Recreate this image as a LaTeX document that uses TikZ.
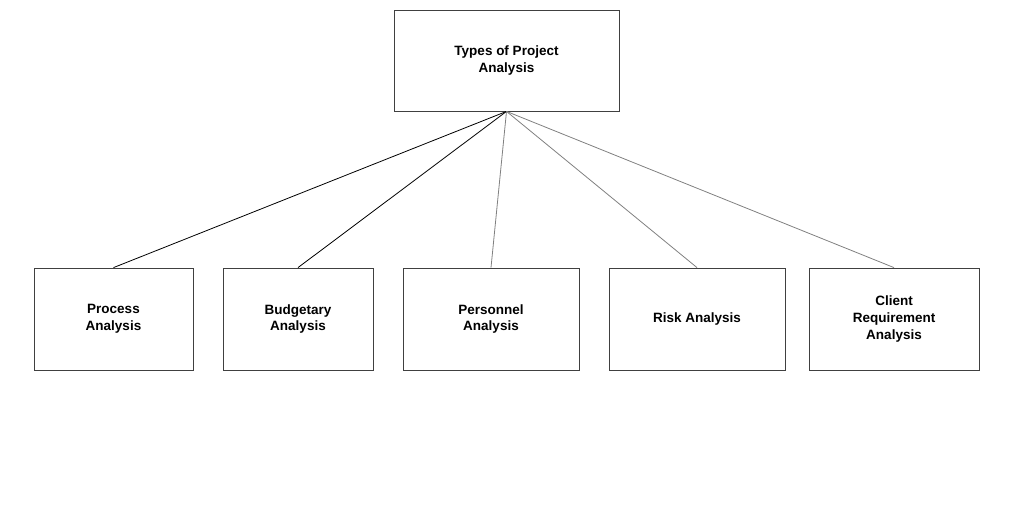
\documentclass[tikz,border=0pt]{standalone}
\usepackage{fontspec}
\setmainfont{Liberation Sans}
\begin{document}
\begin{tikzpicture}[x=1pt,y=-1pt,
  box/.style={draw=black!75,line width=0.8pt,rectangle,inner sep=0,align=center,
    font=\fontsize{13.5}{17}\selectfont\bfseries,minimum height=102pt},
  link/.style={line width=0.8pt}]
\useasboundingbox (0,0) rectangle (1011,515);

\node[box,minimum width=225pt,minimum height=101pt] (types) at (506.5,60.5) {Types of Project\\Analysis};

\node[box,minimum width=159pt] (process) at (113.5,319) {Process\\Analysis};
\node[box,minimum width=150pt] (budget) at (298,319) {Budgetary\\Analysis};
\node[box,minimum width=176pt] (personnel) at (491,319) {Personnel\\Analysis};
\node[box,minimum width=176pt] (risk) at (697,319) {Risk Analysis};
\node[box,minimum width=170pt] (client) at (894,319) {Client\\Requirement\\Analysis};

% connectors
\draw[link,black] (types.south) -- (process.north);
\draw[link,black] (types.south) -- (budget.north);
\foreach \n in {personnel,risk,client}
  \draw[link,black!50] (types.south) -- (\n.north);
\end{tikzpicture}
\end{document}
